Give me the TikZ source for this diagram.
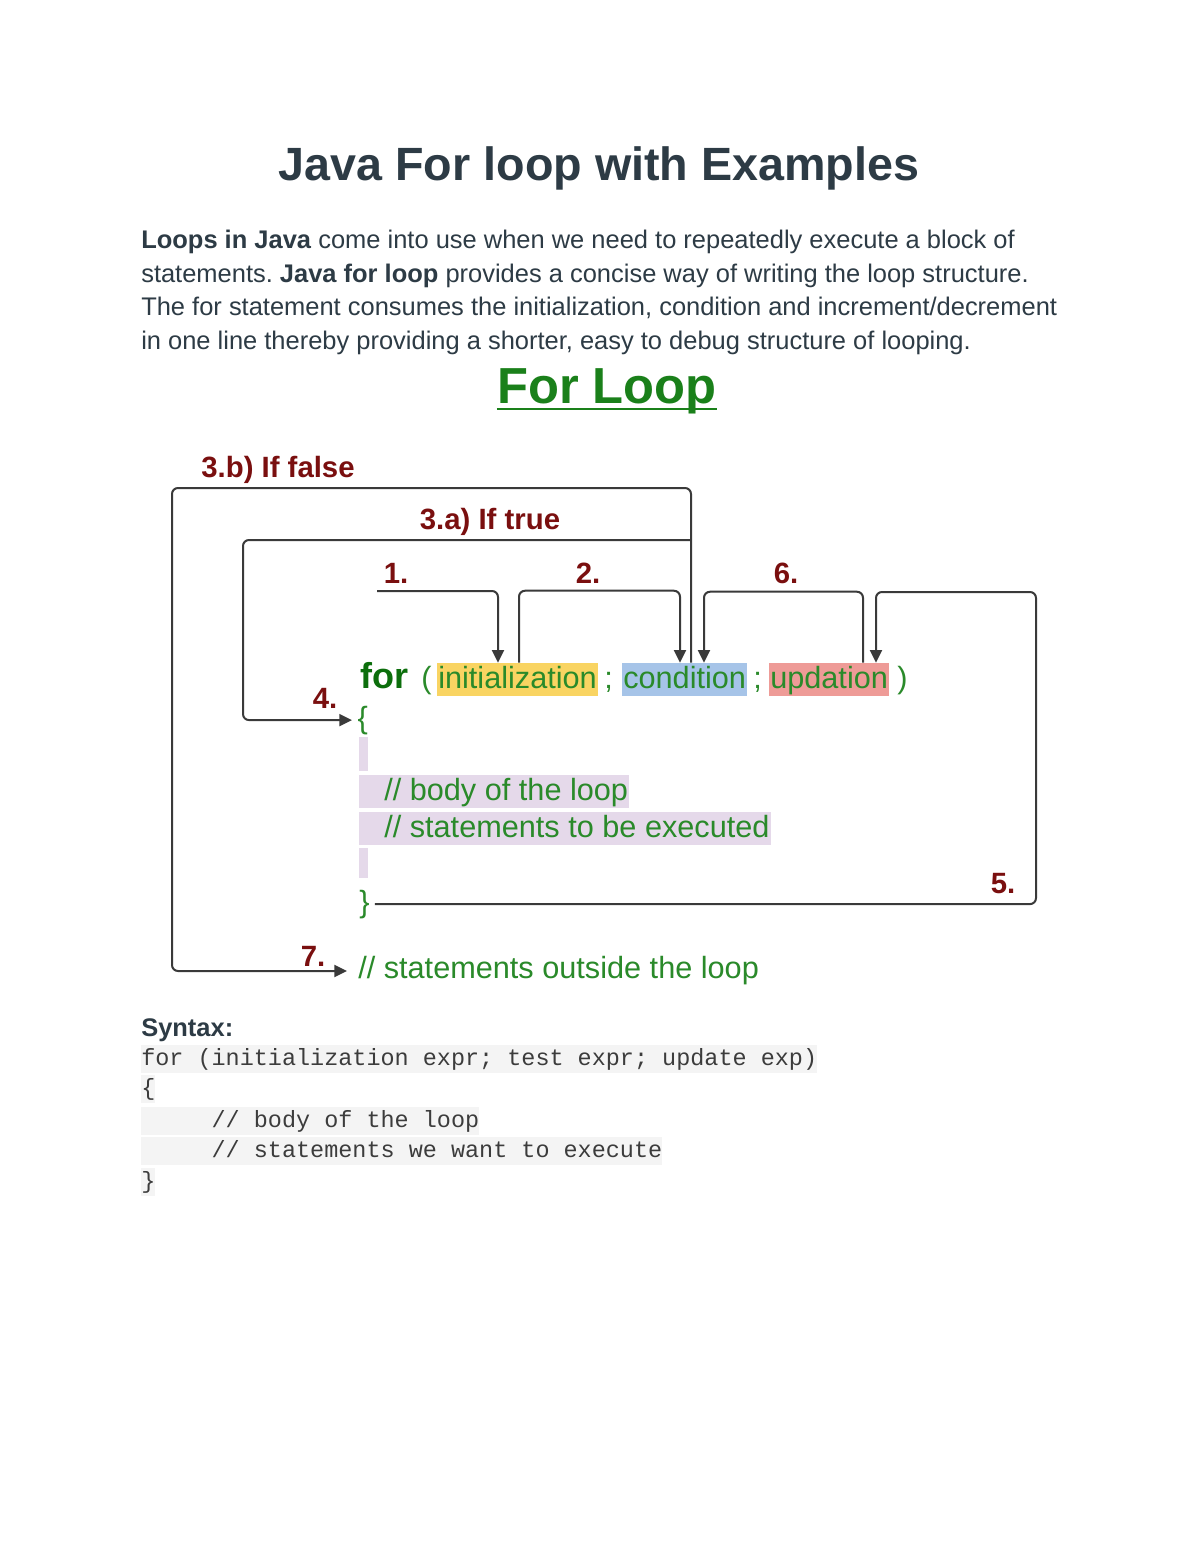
\documentclass[tikz,border=0pt]{standalone}
\usepackage{fontspec}
\setmainfont{Liberation Sans}
\setmonofont{Liberation Mono}
\usetikzlibrary{arrows.meta, calc}
\definecolor{slate}{HTML}{2D3B45}
\definecolor{loopgreen}{HTML}{1A801A}
\definecolor{kwgreen}{HTML}{0C6E0C}
\definecolor{codegreen}{HTML}{2A8A2A}
\definecolor{stepred}{HTML}{7A0F0F}
\definecolor{hlyellow}{HTML}{F9D462}
\definecolor{hlblue}{HTML}{A6C4E8}
\definecolor{hlred}{HTML}{EE9B97}
\definecolor{hlbody}{HTML}{E5D9EA}
\definecolor{wire}{HTML}{3A3A3A}
\definecolor{codebg}{HTML}{F4F4F4}
\definecolor{codetext}{HTML}{3C3C3C}
\frenchspacing

\begin{document}
\begin{tikzpicture}[x=0.75pt, y=-0.75pt,
    heading/.style={font=\fontsize{35pt}{42pt}\selectfont\bfseries, text=slate, inner sep=0pt},
    intro/.style={font=\fontsize{19.1pt}{25pt}\selectfont, text=slate, inner sep=0pt},
    banner/.style={font=\fontsize{38pt}{44pt}\selectfont\bfseries, text=loopgreen, inner sep=0pt},
    steplabel/.style={font=\fontsize{22pt}{26pt}\selectfont\bfseries, text=stepred, inner sep=0pt},
    kw/.style={font=\fontsize{27pt}{32pt}\selectfont\bfseries, text=kwgreen, inner sep=0pt},
    code/.style={font=\fontsize{23pt}{28pt}\selectfont, text=codegreen, inner sep=0pt},
    hl/.style={inner xsep=0.75pt, inner ysep=0pt, text height=18.75pt, text depth=6pt},
    flow/.style={-{Triangle[length=9.5pt, width=9pt]}, draw=wire, line width=1.5pt, rounded corners=4.5pt},
    syntax/.style={font=\fontsize{17.6pt}{21pt}\selectfont\ttfamily, text=codetext, fill=codebg,
        inner xsep=0pt, inner ysep=0pt, text height=15pt, text depth=6pt}
]
\useasboundingbox (0,0) rectangle (1200,1553);
\fill[white] (0,0) rectangle (1200,1553);

% ===== TITLE AND INTRO =====
\node[heading] (title) at (599,168) {Java For loop with Examples};
\node[intro, anchor=base west] (intro1) at (141,248) {\textbf{Loops in Java} come into use when we need to repeatedly execute a block of};
\node[intro, anchor=base west] (intro2) at (141,282) {statements. \textbf{Java for loop} provides a concise way of writing the loop structure.};
\node[intro, anchor=base west] (intro3) at (141,315) {The for statement consumes the initialization, condition and increment/decrement};
\node[intro, anchor=base west] (intro4) at (141,349) {in one line thereby providing a shorter, easy to debug structure of looping.};

% ===== FOR LOOP DIAGRAM =====
\node[banner, anchor=base] (banner) at (607,403) {For Loop};
\draw[loopgreen, line width=2.2pt] ($(banner.base west)+(0,6)$) -- ($(banner.base east)+(0,6)$);

% the for header
\node[kw, anchor=base west] (kwfor) at (360,688) {for};
\node[code, anchor=base west] (lpar) at (421,688) {(};
\node[code, hl, fill=hlyellow, anchor=base west] (init) at (437,688) {initialization};
\node[code, anchor=base west] (semi1) at (604,688) {;};
\node[code, hl, fill=hlblue, anchor=base west] (cond) at (622,688) {condition};
\node[code, anchor=base west] (semi2) at (753,688) {;};
\node[code, hl, fill=hlred, anchor=base west] (upd) at (769,688) {updation};
\node[code, anchor=base west] (rpar) at (897,688) {)};

% body
\node[code, anchor=base west, inner xsep=4pt] (lb) at (352,728) {\{};
\fill[hlbody] (359,737) rectangle (368,771);
\node[code, hl, fill=hlbody, anchor=base west] (body1) at (359,800) {\hspace*{18pt}// body of the loop};
\node[code, hl, fill=hlbody, anchor=base west] (body2) at (359,837) {\hspace*{18pt}// statements to be executed};
\fill[hlbody] (359,848) rectangle (368,878);
\node[code, anchor=base west, inner xsep=3.75pt] (rb) at (354,912) {\}};
\node[code, anchor=west, inner xsep=8.25pt] (outs) at (347,971) {// statements outside the loop};

% step labels
\node[steplabel] (lbl1) at (396,573) {1.};
\node[steplabel] (lbl2) at (588,573) {2.};
\node[steplabel] (lbl6) at (786,573) {6.};
\node[steplabel] (lbl3a) at (490,522) {3.a) If true};
\node[steplabel] (lbl3b) at (278,470) {3.b) If false};
\node[steplabel] (lbl4) at (325,698) {4.};
\node[steplabel] (lbl5) at (1003,884) {5.};
\node[steplabel] (lbl7) at (313,956) {7.};

% connectors
\coordinate (start1) at (377,591);
\coordinate (fork3) at (691,540);
\coordinate (corner3a) at (243,540);
\coordinate (corner3b) at (172,488);
\coordinate (corner5) at (1036,592);

\draw[flow] (start1) -| ($(init.north west)+(61,0)$);
\draw[flow] ($(init.north west)+(82,0)$) -- ++(0,-72) -| ($(cond.north west)+(58,0)$);
\draw[flow] ($(cond.north west)+(69,0)$) |- (corner3b) |- (outs.west);
\draw[flow] (fork3) -- (corner3a) |- (lb.west);
\draw[flow] (rb.east) -| (corner5) -| ($(upd.north west)+(107,0)$);
\draw[flow] ($(upd.north west)+(94,0)$) -- ++(0,-71) -| ($(cond.north west)+(82,0)$);

% ===== SYNTAX =====
\node[intro, font=\fontsize{19.1pt}{25pt}\selectfont\bfseries, anchor=base west] (syn) at (141,1036) {Syntax:};
\node[syntax, anchor=base west] (syn1) at (141,1065) {for (initialization expr; test expr; update exp)};
\node[syntax, anchor=base west] (syn2) at (141,1095) {\{};
\node[syntax, anchor=base west] (syn3) at (141,1127) {\hspace*{3em}// body of the loop};
\node[syntax, anchor=base west] (syn4) at (141,1157) {\hspace*{3em}// statements we want to execute};
\node[syntax, anchor=base west] (syn5) at (141,1188) {\}};
\end{tikzpicture}
\end{document}
